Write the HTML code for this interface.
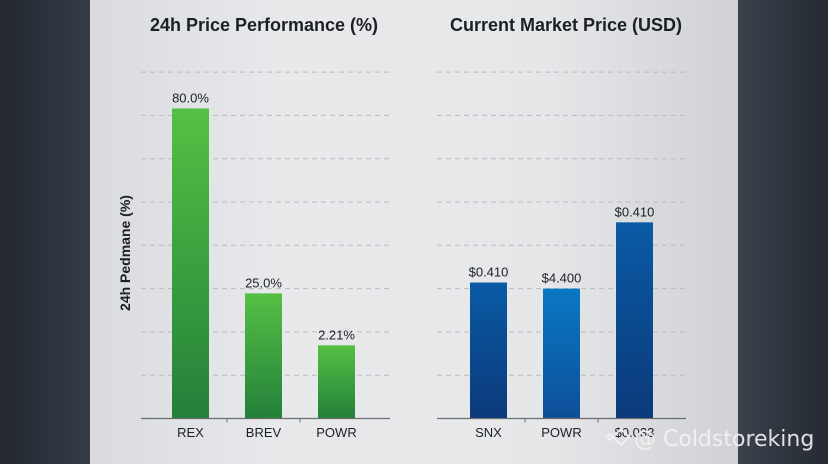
<!DOCTYPE html>
<html><head><meta charset="utf-8">
<style>
html,body{margin:0;padding:0;width:828px;height:464px;overflow:hidden;background:#2b313a;}
svg{display:block;font-family:"Liberation Sans",sans-serif;}
</style></head>
<body>
<svg id="c" width="828" height="464" viewBox="0 0 828 464">
<defs>
<linearGradient id="side" x1="0" x2="1"><stop offset="0" stop-color="#232830"/><stop offset="1" stop-color="#353c46"/></linearGradient>
<linearGradient id="side2" x1="0" x2="1"><stop offset="0" stop-color="#3a414b"/><stop offset="1" stop-color="#252a32"/></linearGradient>
<linearGradient id="panel" x1="0" x2="1"><stop offset="0" stop-color="#d9dbde"/><stop offset="0.3" stop-color="#e8e9eb"/><stop offset="0.7" stop-color="#e6e7e9"/><stop offset="1" stop-color="#cfd1d4"/></linearGradient>
<linearGradient id="green" x1="0" y1="0" x2="0" y2="1"><stop offset="0" stop-color="#55c044"/><stop offset="1" stop-color="#23803a"/></linearGradient>
<linearGradient id="blue" x1="0" y1="0" x2="0" y2="1"><stop offset="0" stop-color="#0a5aa5"/><stop offset="1" stop-color="#0b3a7a"/></linearGradient>
<linearGradient id="blue2" x1="0" y1="0" x2="0" y2="1"><stop offset="0" stop-color="#0a78c4"/><stop offset="1" stop-color="#0d4f98"/></linearGradient>
</defs>
<rect x="0" y="0" width="90" height="464" fill="url(#side)"/>
<rect x="738" y="0" width="90" height="464" fill="url(#side2)"/>
<rect x="90" y="0" width="648" height="464" fill="url(#panel)"/>
<g id="left"></g>
<g id="right"></g>
<text x="264" y="31" text-anchor="middle" font-size="18" font-weight="bold" fill="#1c1f24">24h Price Performance (%)</text>
<text x="566" y="31" text-anchor="middle" font-size="18" font-weight="bold" fill="#1c1f24">Current Market Price (USD)</text>
<text transform="translate(130,253) rotate(-90)" text-anchor="middle" font-size="14" font-weight="bold" fill="#1c1f24">24h Pedmane (%)</text>
<g opacity="0.9">
<path d="M613 437 l8 -8 l8 8 l-8 8 z M607 437 l3 -3 l3 3 l-3 3 z" fill="none" stroke="#f2f2f2" stroke-width="2"/>
<text x="634" y="446" font-size="22" fill="#f4f4f4" font-family="'DejaVu Sans',sans-serif">@ Coldstoreking</text>
</g>
</svg>
<script>
// Performance chart data (bar heights; printed labels as shown)
const perfCategories = ["REX", "BREV", "POWR"];
const perfValues = [71.6, 28.9, 16.9];
const perfLabels = ["80.0%", "25.0%", "2.21%"];
// Price chart data
const priceCategories = ["SNX", "POWR", "$0.033"];
const priceValues = [3.14, 3.0, 4.53];
const priceLabels = ["$0.410", "$4.400", "$0.410"];
const gridTicks = [1, 2, 3, 4, 5, 6, 7, 8];

const NS = "http://www.w3.org/2000/svg";
const baseY = 418.5, unitPx = 43.3, bandW = 73;
function yScale(v, max) { return baseY - v / max * (8 * unitPx); }

function drawChart(gid, x0, x1, bandStart, cats, vals, labels, max, fills) {
  const g = document.getElementById(gid);
  gridTicks.forEach(t => {
    const l = document.createElementNS(NS, "line");
    const y = yScale(t * max / 8, max);
    l.setAttribute("x1", x0); l.setAttribute("x2", x1);
    l.setAttribute("y1", y); l.setAttribute("y2", y);
    l.setAttribute("stroke", "#b9bcc0"); l.setAttribute("stroke-dasharray", "5,4"); l.setAttribute("stroke-width", "1");
    
    
    g.appendChild(l);
  });
  cats.forEach((c, i) => {
    const cx = bandStart + bandW * (i + 0.5);
    const top = yScale(vals[i], max);
    const r = document.createElementNS(NS, "rect");
    r.setAttribute("x", cx - 18.5); r.setAttribute("width", 37);
    r.setAttribute("y", top); r.setAttribute("height", baseY - top);
    r.setAttribute("fill", fills[i]);
    
    
    g.appendChild(r);
    const v = document.createElementNS(NS, "text");
    v.setAttribute("x", cx); v.setAttribute("y", top - 6);
    v.setAttribute("text-anchor", "middle"); v.setAttribute("font-size", "13"); v.setAttribute("fill", "#1c1f24");
    v.textContent = labels[i];
    
    
    g.appendChild(v);
    const t = document.createElementNS(NS, "text");
    t.setAttribute("x", cx); t.setAttribute("y", 437);
    t.setAttribute("text-anchor", "middle"); t.setAttribute("font-size", "13"); t.setAttribute("fill", "#1c1f24");
    t.textContent = c;
    
    
    g.appendChild(t);
    if (i > 0) {
      const tk = document.createElementNS(NS, "line");
      tk.setAttribute("x1", bandStart + bandW * i); tk.setAttribute("x2", bandStart + bandW * i);
      tk.setAttribute("y1", baseY); tk.setAttribute("y2", baseY + 4);
      tk.setAttribute("stroke", "#6a6d72");
      
      
      g.appendChild(tk);
    }
  });
  const ax = document.createElementNS(NS, "line");
  ax.setAttribute("x1", x0); ax.setAttribute("x2", x1);
  ax.setAttribute("y1", baseY); ax.setAttribute("y2", baseY);
  ax.setAttribute("stroke", "#6a6d72"); ax.setAttribute("stroke-width", "1.2");
  
  
  g.appendChild(ax);
}
drawChart("left", 141, 390, 154, perfCategories, perfValues, perfLabels, 80, ["url(#green)", "url(#green)", "url(#green)"]);
drawChart("right", 437, 686, 452, priceCategories, priceValues, priceLabels, 8, ["url(#blue)", "url(#blue2)", "url(#blue)"]);
</script>
</body></html>
